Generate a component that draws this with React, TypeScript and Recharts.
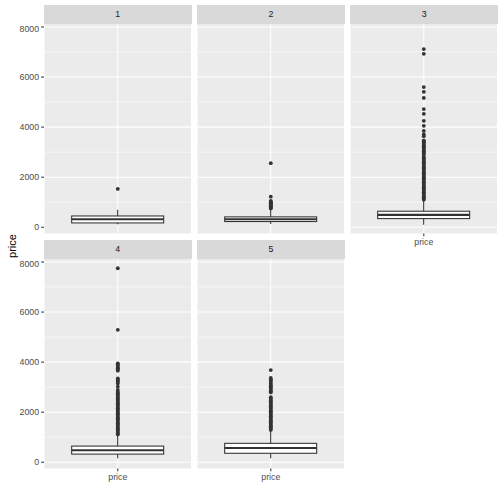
import React from "react";
import {
    ComposedChart,
    Bar,
    Scatter,
    XAxis,
    YAxis,
    CartesianGrid,
} from "recharts";

// facet labels
const facets = ["1", "2", "3", "4", "5"];

// box statistics per facet (price)
const lowerWhisker = [120, 134, 100, 159, 159];
const lowerQuartile = [172, 227, 345, 325, 358];
const medians = [318, 318, 495, 480, 570];
const upperQuartile = [450, 414, 640, 645, 755];
const upperWhisker = [700, 730, 1090, 1100, 1285];

// outliers per facet
const outliers1 = [1530];
const outliers2 = [750, 780, 810, 840, 870, 900, 930, 960, 990, 1020, 1050, 1220, 2560];
const outliers3 = [
    1100, 1150, 1200, 1250, 1300, 1350, 1400, 1450, 1500, 1550, 1600, 1650,
    1700, 1750, 1800, 1850, 1900, 1950, 2000, 2050, 2100, 2150, 2200, 2250,
    2300, 2350, 2400, 2450, 2500, 2550, 2600, 2650, 2700, 2750, 2800, 2890,
    2940, 2990, 3040, 3090, 3140, 3190, 3240, 3290, 3340, 3390, 3430, 3470,
    3640, 3705, 3850, 4050, 4250, 4530, 4720, 5165, 5410, 5600, 6930, 7120,
];
const outliers4 = [
    1110, 1160, 1210, 1260, 1310, 1360, 1410, 1460, 1510, 1560, 1610, 1660,
    1710, 1760, 1810, 1860, 1910, 1960, 2010, 2060, 2110, 2160, 2210, 2260,
    2310, 2360, 2410, 2460, 2510, 2560, 2610, 2660, 2710, 2760, 2810, 2890,
    3020, 3150, 3220, 3260, 3300, 3350, 3660, 3710, 3760, 3810, 3860, 3910,
    3950, 5290, 7750,
];
const outliers5 = [
    1290, 1340, 1390, 1440, 1490, 1540, 1590, 1640, 1690, 1740, 1790, 1840,
    1890, 1940, 1990, 2040, 2090, 2140, 2190, 2240, 2290, 2340, 2390, 2440,
    2490, 2540, 2600, 2790, 2840, 2890, 2940, 2990, 3040, 3090, 3140, 3210,
    3260, 3310, 3366, 3684,
];
const outlierSets = [outliers1, outliers2, outliers3, outliers4, outliers5];

const xCategory = "price";
const majorTicks = [0, 2000, 4000, 6000, 8000];
const minorTicks = [1000, 3000, 5000, 7000];

// layout
const panelLeft = [44, 197.2, 350.4];
const panelW = 147.6;
const stripTops = [5, 240];
const stripH = 19.3;
const panelH = 209.5;
const axisW = 44;
const axisH = 20;

const FONT = "'Liberation Sans', Arial, sans-serif";
const INK = "#333333";

function BoxShape(props: any) {
    const { x, y, width, height, payload } = props;
    const { lo, q1, med, q3, hi } = payload;
    const k = height / (hi - lo);
    const py = (v: number) => y + (hi - v) * k;
    const cx = x + width / 2;
    return (
        <g>
            <line x1={cx} x2={cx} y1={py(hi)} y2={py(q3)} stroke={INK} strokeWidth={1.07} />
            <line x1={cx} x2={cx} y1={py(q1)} y2={py(lo)} stroke={INK} strokeWidth={1.07} />
            <rect
                x={x}
                y={py(q3)}
                width={width}
                height={py(q1) - py(q3)}
                fill="#ffffff"
                stroke={INK}
                strokeWidth={1.07}
            />
            <line x1={x} x2={x + width} y1={py(med)} y2={py(med)} stroke={INK} strokeWidth={2.13} />
        </g>
    );
}

function Dot(props: any) {
    return <circle cx={props.cx} cy={props.cy} r={1.9} fill={INK} />;
}

function Panel({ i }: { i: number }) {
    const col = i % 3;
    const row = Math.floor(i / 3);
    const showY = col === 0;
    const showX = i >= 2;
    const width = panelW + (showY ? axisW : 0);
    const height = panelH + (showX ? axisH : 0);
    const left = panelLeft[col] - (showY ? axisW : 0);
    const top = stripTops[row] + stripH;

    const boxData = [
        {
            cat: xCategory,
            lo: lowerWhisker[i],
            q1: lowerQuartile[i],
            med: medians[i],
            q3: upperQuartile[i],
            hi: upperWhisker[i],
            range: [lowerWhisker[i], upperWhisker[i]],
        },
    ];
    const pts = outlierSets[i].map((v) => ({ cat: xCategory, value: v }));

    return (
        <>
            <div
                style={{
                    position: "absolute",
                    left: panelLeft[col],
                    top: stripTops[row],
                    width: panelW,
                    height: stripH,
                    background: "#D9D9D9",
                    color: "#1A1A1A",
                    fontSize: 8.8,
                    lineHeight: `${stripH}px`,
                    textAlign: "center",
                }}
            >
                {facets[i]}
            </div>
            <div style={{ position: "absolute", left, top }}>
                <ComposedChart
                    width={width}
                    height={height}
                    data={boxData}
                    margin={{ top: 0, right: 0, bottom: 0, left: 0 }}
                    barCategoryGap="18.75%"
                >
                    <CartesianGrid
                        fill="#EBEBEB"
                        stroke="#ffffff"
                        strokeWidth={0.53}
                        horizontalValues={minorTicks}
                        vertical={false}
                    />
                    <CartesianGrid
                        stroke="#ffffff"
                        strokeWidth={1.07}
                        horizontalValues={majorTicks}
                    />
                    <XAxis
                        dataKey="cat"
                        type="category"
                        allowDuplicatedCategory={false}
                        hide={!showX}
                        height={axisH}
                        axisLine={false}
                        tickSize={2.75}
                        tickMargin={2.2}
                        tickLine={{ stroke: INK, strokeWidth: 1.07 }}
                        tick={{ fill: "#4D4D4D", fontSize: 8.8, fontFamily: FONT }}
                    />
                    <YAxis
                        type="number"
                        domain={[-250, 8120]}
                        ticks={majorTicks}
                        hide={!showY}
                        width={axisW}
                        axisLine={false}
                        tickSize={2.75}
                        tickMargin={2.2}
                        tickLine={{ stroke: INK, strokeWidth: 1.07 }}
                        tick={{ fill: "#4D4D4D", fontSize: 8.8, fontFamily: FONT }}
                    />
                    <Bar dataKey="range" shape={BoxShape} isAnimationActive={false} />
                    <Scatter data={pts} dataKey="value" shape={Dot} isAnimationActive={false} />
                </ComposedChart>
            </div>
        </>
    );
}

export default function App() {
    return (
        <div
            style={{
                position: "absolute",
                left: 0,
                top: 0,
                width: 504,
                height: 504,
                background: "#ffffff",
                fontFamily: FONT,
            }}
        >
            {facets.map((f, i) => (
                <Panel key={f} i={i} />
            ))}
            <div
                style={{
                    position: "absolute",
                    left: 12.2 - 30,
                    top: 246 - 7,
                    width: 60,
                    height: 14,
                    lineHeight: "14px",
                    fontSize: 11,
                    textAlign: "center",
                    color: "#000000",
                    transform: "rotate(-90deg)",
                }}
            >
                price
            </div>
        </div>
    );
}
